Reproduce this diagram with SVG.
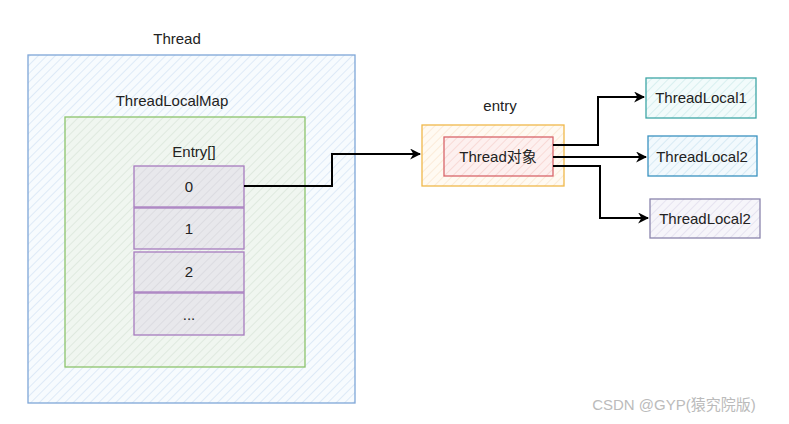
<svg xmlns="http://www.w3.org/2000/svg" width="789" height="424" viewBox="0 0 789 424">
<style>
text{font-family:"Liberation Sans",Arial,"Noto Sans CJK SC",sans-serif;font-size:15px;fill:#222;text-anchor:middle}
.c{fill:none;stroke:#000;stroke-width:2}
.box{stroke-width:1.3}
</style>
<defs>
<pattern id="hb" width="6" height="6" patternUnits="userSpaceOnUse" patternTransform="rotate(45)"><rect width="6" height="6" fill="#f7fbfe"/><line x1="0" y1="0" x2="0" y2="6" stroke="#c6daf0" stroke-width="1"/></pattern>
<pattern id="hg" width="6" height="6" patternUnits="userSpaceOnUse" patternTransform="rotate(45)"><rect width="6" height="6" fill="#f0f6f0"/><line x1="0" y1="0" x2="0" y2="6" stroke="#cfdccf" stroke-width="1"/></pattern>
<pattern id="hp" width="6" height="6" patternUnits="userSpaceOnUse" patternTransform="rotate(45)"><rect width="6" height="6" fill="#e8e8ec"/><line x1="0" y1="0" x2="0" y2="6" stroke="#d0d0d6" stroke-width="1"/></pattern>
<pattern id="ho" width="6" height="6" patternUnits="userSpaceOnUse" patternTransform="rotate(45)"><rect width="6" height="6" fill="#fffaf2"/><line x1="0" y1="0" x2="0" y2="6" stroke="#f8dcc0" stroke-width="1"/></pattern>
<pattern id="hr" width="6" height="6" patternUnits="userSpaceOnUse" patternTransform="rotate(45)"><rect width="6" height="6" fill="#fdf0ef"/><line x1="0" y1="0" x2="0" y2="6" stroke="#f3c4c0" stroke-width="1"/></pattern>
<pattern id="ht" width="6" height="6" patternUnits="userSpaceOnUse" patternTransform="rotate(45)"><rect width="6" height="6" fill="#f2fbfb"/><line x1="0" y1="0" x2="0" y2="6" stroke="#bfe3e3" stroke-width="1"/></pattern>
<pattern id="hc" width="6" height="6" patternUnits="userSpaceOnUse" patternTransform="rotate(45)"><rect width="6" height="6" fill="#f2f9fd"/><line x1="0" y1="0" x2="0" y2="6" stroke="#bcdcec" stroke-width="1"/></pattern>
<pattern id="hv" width="6" height="6" patternUnits="userSpaceOnUse" patternTransform="rotate(45)"><rect width="6" height="6" fill="#f6f5fa"/><line x1="0" y1="0" x2="0" y2="6" stroke="#d6d2e6" stroke-width="1"/></pattern>
<marker id="a" viewBox="0 0 10 10" refX="9" refY="5" markerWidth="11" markerHeight="11" orient="auto" markerUnits="userSpaceOnUse"><path d="M0,0 L10,5 L0,10 L3,5 Z" fill="#000"/></marker>
</defs>
<g id="thread"><rect class="box" x="28" y="55" width="327" height="348" fill="url(#hb)" stroke="#7ea6d8"/><text x="177" y="44">Thread</text></g>
<g id="map"><rect class="box" x="65" y="117" width="240" height="250" fill="url(#hg)" stroke="#8cc46c"/><text x="172" y="106">ThreadLocalMap</text></g>
<g id="entries"><text x="194" y="157">Entry[]</text>
<rect class="box" x="134" y="166" width="110" height="41" fill="url(#hp)" stroke="#a77bbf"/><text x="189" y="192">0</text>
<rect class="box" x="134" y="208" width="110" height="41" fill="url(#hp)" stroke="#a77bbf"/><text x="189" y="234">1</text>
<rect class="box" x="134" y="252" width="110" height="40" fill="url(#hp)" stroke="#a77bbf"/><text x="189" y="277">2</text>
<rect class="box" x="134" y="293" width="110" height="42" fill="url(#hp)" stroke="#a77bbf"/><text x="189" y="320">...</text></g>
<g id="entry"><rect class="box" x="422" y="125" width="142" height="61" fill="url(#ho)" stroke="#f0b84a"/><text x="500" y="111">entry</text>
<rect class="box" x="444" y="137" width="109" height="39" fill="url(#hr)" stroke="#d9666a"/><text x="498" y="162">Thread对象</text></g>
<g id="tl1"><rect class="box" x="646" y="78" width="110" height="40" fill="url(#ht)" stroke="#3ea6a6"/><text x="701" y="103">ThreadLocal1</text></g>
<g id="tl2"><rect class="box" x="648" y="136" width="109" height="40" fill="url(#hc)" stroke="#3a92c0"/><text x="702" y="162">ThreadLocal2</text></g>
<g id="tl3"><rect class="box" x="650" y="199" width="110" height="39" fill="url(#hv)" stroke="#8a84ad"/><text x="705" y="224">ThreadLocal2</text></g>
<g id="connectors">
<path class="c" d="M244,186 H332 V154 H420" marker-end="url(#a)"/>
<path class="c" d="M553,145 H598 V97 H644" marker-end="url(#a)"/>
<path class="c" d="M553,157 H646" marker-end="url(#a)"/>
<path class="c" d="M553,166 H600 V218 H648" marker-end="url(#a)"/>
</g>
<text x="674" y="410" style="fill:#bbb;font-size:15px">CSDN @GYP(猿究院版)</text>
</svg>
